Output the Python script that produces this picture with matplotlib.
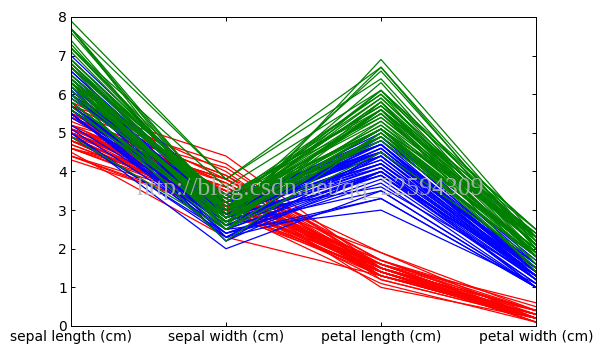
import numpy as np
import matplotlib
matplotlib.use("Agg")
import matplotlib.pyplot as plt

features = ["sepal length (cm)", "sepal width (cm)",
            "petal length (cm)", "petal width (cm)"]

setosa = [
    [5.1, 3.5, 1.4, 0.2], [4.9, 3.0, 1.4, 0.2], [4.7, 3.2, 1.3, 0.2], [4.6, 3.1, 1.5, 0.2],
    [5.0, 3.6, 1.4, 0.2], [5.4, 3.9, 1.7, 0.4], [4.6, 3.4, 1.4, 0.3], [5.0, 3.4, 1.5, 0.2],
    [4.4, 2.9, 1.4, 0.2], [4.9, 3.1, 1.5, 0.1], [5.4, 3.7, 1.5, 0.2], [4.8, 3.4, 1.6, 0.2],
    [4.8, 3.0, 1.4, 0.1], [4.3, 3.0, 1.1, 0.1], [5.8, 4.0, 1.2, 0.2], [5.7, 4.4, 1.5, 0.4],
    [5.4, 3.9, 1.3, 0.4], [5.1, 3.5, 1.4, 0.3], [5.7, 3.8, 1.7, 0.3], [5.1, 3.8, 1.5, 0.3],
    [5.4, 3.4, 1.7, 0.2], [5.1, 3.7, 1.5, 0.4], [4.6, 3.6, 1.0, 0.2], [5.1, 3.3, 1.7, 0.5],
    [4.8, 3.4, 1.9, 0.2], [5.0, 3.0, 1.6, 0.2], [5.0, 3.4, 1.6, 0.4], [5.2, 3.5, 1.5, 0.2],
    [5.2, 3.4, 1.4, 0.2], [4.7, 3.2, 1.6, 0.2], [4.8, 3.1, 1.6, 0.2], [5.4, 3.4, 1.5, 0.4],
    [5.2, 4.1, 1.5, 0.1], [5.5, 4.2, 1.4, 0.2], [4.9, 3.1, 1.5, 0.2], [5.0, 3.2, 1.2, 0.2],
    [5.5, 3.5, 1.3, 0.2], [4.9, 3.6, 1.4, 0.1], [4.4, 3.0, 1.3, 0.2], [5.1, 3.4, 1.5, 0.2],
    [5.0, 3.5, 1.3, 0.3], [4.5, 2.3, 1.3, 0.3], [4.4, 3.2, 1.3, 0.2], [5.0, 3.5, 1.6, 0.6],
    [5.1, 3.8, 1.9, 0.4], [4.8, 3.0, 1.4, 0.3], [5.1, 3.8, 1.6, 0.2], [4.6, 3.2, 1.4, 0.2],
    [5.3, 3.7, 1.5, 0.2], [5.0, 3.3, 1.4, 0.2],
]

versicolor = [
    [7.0, 3.2, 4.7, 1.4], [6.4, 3.2, 4.5, 1.5], [6.9, 3.1, 4.9, 1.5], [5.5, 2.3, 4.0, 1.3],
    [6.5, 2.8, 4.6, 1.5], [5.7, 2.8, 4.5, 1.3], [6.3, 3.3, 4.7, 1.6], [4.9, 2.4, 3.3, 1.0],
    [6.6, 2.9, 4.6, 1.3], [5.2, 2.7, 3.9, 1.4], [5.0, 2.0, 3.5, 1.0], [5.9, 3.0, 4.2, 1.5],
    [6.0, 2.2, 4.0, 1.0], [6.1, 2.9, 4.7, 1.4], [5.6, 2.9, 3.6, 1.3], [6.7, 3.1, 4.4, 1.4],
    [5.6, 3.0, 4.5, 1.5], [5.8, 2.7, 4.1, 1.0], [6.2, 2.2, 4.5, 1.5], [5.6, 2.5, 3.9, 1.1],
    [5.9, 3.2, 4.8, 1.8], [6.1, 2.8, 4.0, 1.3], [6.3, 2.5, 4.9, 1.5], [6.1, 2.8, 4.7, 1.2],
    [6.4, 2.9, 4.3, 1.3], [6.6, 3.0, 4.4, 1.4], [6.8, 2.8, 4.8, 1.4], [6.7, 3.0, 5.0, 1.7],
    [6.0, 2.9, 4.5, 1.5], [5.7, 2.6, 3.5, 1.0], [5.5, 2.4, 3.8, 1.1], [5.5, 2.4, 3.7, 1.0],
    [5.8, 2.7, 3.9, 1.2], [6.0, 2.7, 5.1, 1.6], [5.4, 3.0, 4.5, 1.5], [6.0, 3.4, 4.5, 1.6],
    [6.7, 3.1, 4.7, 1.5], [6.3, 2.3, 4.4, 1.3], [5.6, 3.0, 4.1, 1.3], [5.5, 2.5, 4.0, 1.3],
    [5.5, 2.6, 4.4, 1.2], [6.1, 3.0, 4.6, 1.4], [5.8, 2.6, 4.0, 1.2], [5.0, 2.3, 3.3, 1.0],
    [5.6, 2.7, 4.2, 1.3], [5.7, 3.0, 4.2, 1.2], [5.7, 2.9, 4.2, 1.3], [6.2, 2.9, 4.3, 1.3],
    [5.1, 2.5, 3.0, 1.1], [5.7, 2.8, 4.1, 1.3],
]

virginica = [
    [6.3, 3.3, 6.0, 2.5], [5.8, 2.7, 5.1, 1.9], [7.1, 3.0, 5.9, 2.1], [6.3, 2.9, 5.6, 1.8],
    [6.5, 3.0, 5.8, 2.2], [7.6, 3.0, 6.6, 2.1], [4.9, 2.5, 4.5, 1.7], [7.3, 2.9, 6.3, 1.8],
    [6.7, 2.5, 5.8, 1.8], [7.2, 3.6, 6.1, 2.5], [6.5, 3.2, 5.1, 2.0], [6.4, 2.7, 5.3, 1.9],
    [6.8, 3.0, 5.5, 2.1], [5.7, 2.5, 5.0, 2.0], [5.8, 2.8, 5.1, 2.4], [6.4, 3.2, 5.3, 2.3],
    [6.5, 3.0, 5.5, 1.8], [7.7, 3.8, 6.7, 2.2], [7.7, 2.6, 6.9, 2.3], [6.0, 2.2, 5.0, 1.5],
    [6.9, 3.2, 5.7, 2.3], [5.6, 2.8, 4.9, 2.0], [7.7, 2.8, 6.7, 2.0], [6.3, 2.7, 4.9, 1.8],
    [6.7, 3.3, 5.7, 2.1], [7.2, 3.2, 6.0, 1.8], [6.2, 2.8, 4.8, 1.8], [6.1, 3.0, 4.9, 1.8],
    [6.4, 2.8, 5.6, 2.1], [7.2, 3.0, 5.8, 1.6], [7.4, 2.8, 6.1, 1.9], [7.9, 3.8, 6.4, 2.0],
    [6.4, 2.8, 5.6, 2.2], [6.3, 2.8, 5.1, 1.5], [6.1, 2.6, 5.6, 1.4], [7.7, 3.0, 6.1, 2.3],
    [6.3, 3.4, 5.6, 2.4], [6.4, 3.1, 5.5, 1.8], [6.0, 3.0, 4.8, 1.8], [6.9, 3.1, 5.4, 2.1],
    [6.7, 3.1, 5.6, 2.4], [6.9, 3.1, 5.1, 2.3], [5.8, 2.7, 5.1, 1.9], [6.8, 3.2, 5.9, 2.3],
    [6.7, 3.3, 5.7, 2.5], [6.7, 3.0, 5.2, 2.3], [6.3, 2.5, 5.0, 1.9], [6.5, 3.0, 5.2, 2.0],
    [6.2, 3.4, 5.4, 2.3], [5.9, 3.0, 5.1, 1.8],
]

groups = [(setosa, "red"), (versicolor, "blue"), (virginica, "green")]

px = 72 / 100.
plt.rcParams["font.size"] = 10

fig = plt.figure(figsize=(6.03, 3.56), dpi=100)
ax = fig.add_axes([0.1177, 0.0843, 0.7712, 0.8680])

x = np.arange(len(features))
for rows, color in groups:
    for row in rows:
        ax.plot(x, row, color=color, lw=0.9)

ax.set_xlim(0, 3)
ax.set_ylim(0, 8)
ax.set_xticks(x)
ax.set_xticklabels(features)
ax.set_yticks(range(0, 9))
ax.tick_params(direction="in", top=True, right=True, length=4 * px,
               width=1.0 * px, pad=4 * px, colors="black")
for s in ax.spines.values():
    s.set_linewidth(1.0 * px)

# blog watermark, stretched to the width it has in the screenshot
wm = fig.text(0.227, 0.452, "http://blog.csdn.net/qq_22594309",
              family="Liberation Serif", fontsize=14, color="#b8b8b8", alpha=0.85)
fig.canvas.draw()
w = wm.get_window_extent().width
wm.set_fontsize(14 * 350 / w)

fig.savefig("out.png", dpi=100, facecolor="white")
